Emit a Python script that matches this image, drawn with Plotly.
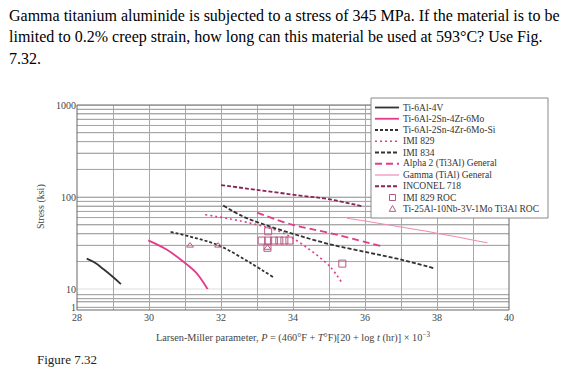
import plotly.graph_objects as go

# ---------------- data ----------------
ti64_P = [28.27, 28.5, 28.73, 29.0, 29.22]
ti64_S = [21.5, 19.4, 16.6, 13.6, 11.4]

ti6246_P = [29.98, 30.49, 30.95, 31.32, 31.63]
ti6246_S = [34.0, 27.0, 20.0, 15.0, 10.0]

ti6246si_P = [30.6, 31.3, 31.97, 32.8, 33.47]
ti6246si_S = [42.0, 36.0, 29.6, 19.5, 13.4]

imi829_P = [31.56, 32.81, 33.73, 34.47, 35.03, 35.37]
imi829_S = [64.5, 52.3, 40.7, 26.8, 17.6, 11.6]

imi834_P = [32.06, 32.6, 33.1, 34.0, 35.0, 36.1, 37.0, 37.9]
imi834_S = [81.0, 62.0, 52.0, 40.0, 31.0, 25.0, 21.0, 17.0]

alpha2_P = [33.0, 34.0, 35.0, 36.5]
alpha2_S = [68.0, 50.0, 41.0, 29.0]

gamma_P = [35.5, 37.5, 39.4]
gamma_S = [59.0, 44.0, 32.0]

inconel_P = [32.0, 33.0, 34.2, 35.0, 35.95]
inconel_S = [135.0, 120.0, 104.0, 95.0, 79.0]

imi829roc_P = [33.31, 33.13, 33.31, 33.47, 33.62, 33.76, 33.9, 33.29, 35.37]
imi829roc_S = [42.6, 33.8, 33.8, 33.8, 33.8, 33.8, 33.8, 28.2, 19.0]

ti3alroc_P = [31.14, 31.92, 33.29]
ti3alroc_S = [29.8, 29.8, 28.2]

x_tickvals = list(range(28, 41))
x_ticktext = [str(v) if v % 2 == 0 else " " for v in x_tickvals]
y_tickvals = [10, 20, 30, 40, 50, 60, 70, 80, 90,
              100, 200, 300, 400, 500, 600, 700, 800, 900, 1000]
y_ticktext = ["10"] + [" "] * 8 + ["100"] + [" "] * 8 + ["1000"]
y2_tickvals = [1, 2, 3, 5]
y2_ticktext = ["1", " ", " ", " "]

legend_names = [
    "Ti-6Al-4V",
    "Ti-6Al-2Sn-4Zr-6Mo",
    "Ti-6Al-2Sn-4Zr-6Mo-Si",
    "IMI 829",
    "IMI 834",
    "Alpha 2 (Ti3Al) General",
    "Gamma (TiAl) General",
    "INCONEL 718",
    "IMI 829 ROC",
    "Ti-25Al-10Nb-3V-1Mo Ti3Al ROC",
]

# ---------------- styles ----------------
BLACK = "#333333"
MAG = "#e23a8c"
PINK = "#f08cb8"
DARKMAG = "#8a2457"
MAUVE = "#b65a84"

line_styles = [
    dict(color=BLACK, width=1.8, dash="solid"),
    dict(color=MAG, width=1.8, dash="solid"),
    dict(color=BLACK, width=1.8, dash="3px,2px"),
    dict(color=MAG, width=1.6, dash="2px,3px"),
    dict(color=BLACK, width=1.8, dash="4px,2px"),
    dict(color=MAG, width=1.8, dash="7px,4px"),
    dict(color=PINK, width=1.2, dash="solid"),
    dict(color=DARKMAG, width=1.8, dash="4px,2px"),
]

W, H = 572, 381
L, R, T, B = 77, 509, 105, 310
LOWER_TOP = 289.3
SERIF = "Liberation Serif, Times New Roman, serif"


def px(x):
    return (x - L) / (R - L)


def py(y):
    return (B - y) / (B - T)


series = [
    (ti64_P, ti64_S), (ti6246_P, ti6246_S), (ti6246si_P, ti6246si_S),
    (imi829_P, imi829_S), (imi834_P, imi834_S), (alpha2_P, alpha2_S),
    (gamma_P, gamma_S), (inconel_P, inconel_S),
]

fig = go.Figure()
for (xs, ys), st, nm in zip(series, line_styles, legend_names):
    fig.add_trace(go.Scatter(x=xs, y=ys, mode="lines", name=nm, line=st,
                             line_shape="spline", showlegend=False,
                             xaxis="x", yaxis="y"))

fig.add_trace(go.Scatter(x=imi829roc_P, y=imi829roc_S, mode="markers",
                         name=legend_names[8], showlegend=False,
                         marker=dict(symbol="square-open", size=7,
                                     color=MAUVE, line=dict(width=1)),
                         xaxis="x", yaxis="y"))
fig.add_trace(go.Scatter(x=ti3alroc_P, y=ti3alroc_S, mode="markers",
                         name=legend_names[9], showlegend=False,
                         marker=dict(symbol="triangle-up-open", size=6,
                                     color=MAUVE, line=dict(width=1)),
                         xaxis="x", yaxis="y"))
# empty trace so the compressed lower decade exists as its own subplot
fig.add_trace(go.Scatter(x=[], y=[], showlegend=False, xaxis="x2", yaxis="y2"))

split = py(LOWER_TOP)
GRID = "#a8a8a8"
TICKFONT = dict(family=SERIF, size=10, color="#444")

common_x = dict(range=[28, 40], tickmode="array", tickvals=x_tickvals,
                ticktext=x_ticktext, showgrid=True, gridcolor=GRID,
                gridwidth=1, zeroline=False, showline=False, ticks="",
                tickfont=TICKFONT, domain=[0, 1])
common_y = dict(type="log", showgrid=True, gridcolor=GRID, gridwidth=1,
                zeroline=False, showline=False, ticks="", tickfont=TICKFONT,
                tickmode="array")

fig.update_layout(
    width=W, height=H,
    margin=dict(l=L, r=W - R, t=T, b=H - B, pad=0),
    paper_bgcolor="white", plot_bgcolor="white",
    showlegend=False,
    xaxis=dict(common_x, anchor="y", showticklabels=False),
    xaxis2=dict(common_x, anchor="y2", matches="x", showticklabels=True),
    yaxis=dict(common_y, range=[1, 3], domain=[split, 1], anchor="x",
               tickvals=y_tickvals, ticktext=y_ticktext),
    yaxis2=dict(common_y, range=[-0.15, 1], domain=[0, split], anchor="x2",
                tickvals=y2_tickvals, ticktext=y2_ticktext),
)

shapes = []
# horizontal grid lines placed through the log y scales
for v in y_tickvals:
    shapes.append(dict(type="line", xref="paper", yref="y", x0=0, x1=1,
                       y0=v, y1=v, line=dict(color=GRID, width=1),
                       layer="below"))
for v in y2_tickvals:
    shapes.append(dict(type="line", xref="paper", yref="y2", x0=0, x1=1,
                       y0=v, y1=v, line=dict(color=GRID, width=1),
                       layer="below"))
# plot frame
shapes.append(dict(type="rect", xref="paper", yref="paper", x0=0, x1=1,
                   y0=0, y1=1, line=dict(color="#666", width=1),
                   layer="above"))
# legend box
shapes.append(dict(type="rect", xref="paper", yref="paper",
                   x0=px(371), x1=px(548), y0=py(218), y1=py(98),
                   fillcolor="white", line=dict(color="#888", width=1),
                   layer="above"))

annotations = []
LEG_FONT = dict(family=SERIF, size=9.5, color="#333")
for i, nm in enumerate(legend_names):
    yy = 107.5 + 11.25 * i
    if i < 8:
        st = line_styles[i]
        shapes.append(dict(type="line", xref="paper", yref="paper",
                           x0=px(375), x1=px(399), y0=py(yy), y1=py(yy),
                           line=dict(color=st["color"], width=st["width"],
                                     dash=st["dash"]), layer="above"))
    elif i == 8:
        shapes.append(dict(type="rect", xref="paper", yref="paper",
                           x0=px(389.5), x1=px(395.5),
                           y0=py(yy + 3), y1=py(yy - 3),
                           line=dict(color=MAUVE, width=1), layer="above"))
    else:
        shapes.append(dict(type="path", xref="paper", yref="paper",
                           path="M %f,%f L %f,%f L %f,%f Z" % (
                               px(389.2), py(yy + 2.6), px(395.8), py(yy + 2.6),
                               px(392.5), py(yy - 3.2)),
                           line=dict(color=MAUVE, width=1), layer="above"))
    annotations.append(dict(xref="paper", yref="paper", x=px(401), y=py(yy),
                            xanchor="left", yanchor="middle", showarrow=False,
                            text=nm, font=LEG_FONT))

QFONT = dict(family=SERIF, size=16, color="#000")
qlines = [
    "Gamma titanium aluminide is subjected to a stress of 345 MPa. If the material is to be",
    "limited to 0.2% creep strain, how long can this material be used at 593°C? Use Fig.",
    "7.32.",
]
for k, t in enumerate(qlines):
    annotations.append(dict(xref="paper", yref="paper", x=px(7), y=py(16 + 21 * k),
                            xanchor="left", yanchor="middle", showarrow=False,
                            text=t, font=QFONT))

annotations.append(dict(xref="paper", yref="paper", x=px(293), y=py(337),
                        xanchor="center", yanchor="middle", showarrow=False,
                        text="Larsen-Miller parameter, <i>P</i> = (460°F + <i>T</i>°F)[20 + log <i>t</i> (hr)] × 10<sup>−3</sup>",
                        font=dict(family=SERIF, size=10.25, color="#444")))
annotations.append(dict(xref="paper", yref="paper", x=px(41), y=py(207),
                        xanchor="center", yanchor="middle", showarrow=False,
                        textangle=-90, text="Stress (ksi)",
                        font=dict(family=SERIF, size=10, color="#444")))
annotations.append(dict(xref="paper", yref="paper", x=px(35), y=py(359),
                        xanchor="left", yanchor="middle", showarrow=False,
                        text="Figure 7.32",
                        font=dict(family=SERIF, size=13, color="#222")))

fig.update_layout(shapes=shapes, annotations=annotations)
fig.write_html("out.html", config={"displayModeBar": False},
               post_script="document.body.style.margin='0';document.body.style.padding='0';")
